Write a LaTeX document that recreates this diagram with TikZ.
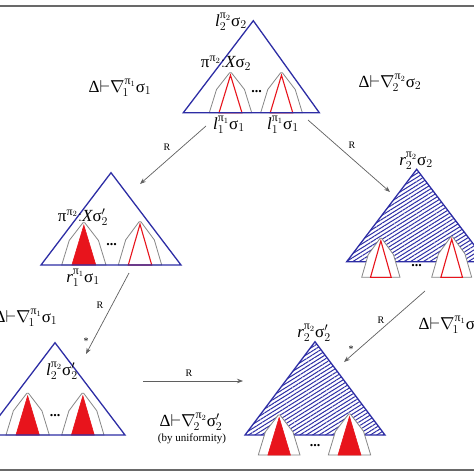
\documentclass[tikz,border=0pt]{standalone}
\usepackage{fontspec}
\usepackage{amsmath}
\setmainfont{Liberation Serif}
\usetikzlibrary{patterns.meta,arrows.meta}
\definecolor{tblue}{RGB}{45,45,165}
\definecolor{tred}{RGB}{232,20,28}
\definecolor{tgray}{RGB}{135,135,135}
\definecolor{agray}{RGB}{95,95,95}
\definecolor{rulegray}{RGB}{105,105,105}
\newcommand\gpi{\text{π}}
\newcommand\gsig{\text{σ}}
\newcommand\gDel{\text{Δ}}
\newcommand\itl{\text{\itshape l}}
\newcommand\itr{\text{\itshape r}}
\newcommand\itX{\text{\itshape X}}
\newcommand\subtree[5]{%
  \pgfmathsetmacro\stw{#2-#1}%
  \pgfmathsetmacro\sth{#3-#4}%
  \pgfmathsetmacro\stc{(#1+#2)/2}%
  \path[graysh] (#1,#3) -- ({#1+0.17*\stw},{#3-0.58*\sth}) -- ({\stc-0.02*\stw},#4) -- ({\stc+0.02*\stw},#4) -- ({#2-0.17*\stw},{#3-0.58*\sth}) -- (#2,#3) -- cycle;
  \path[#5] ({#1+0.23*\stw},#3) -- (\stc,{#4+2.5}) -- ({#2-0.23*\stw},#3) -- cycle;
}
\begin{document}
\begin{tikzpicture}[x=1pt,y=-1pt,
  tri/.style={draw=tblue,line width=1.3pt,line join=miter},
  hatch/.style={pattern={Lines[angle=32,distance=3.4pt,line width=1pt]},pattern color=tblue},
  graysh/.style={draw=tgray,line width=0.8pt,fill=white},
  redo/.style={draw=tred,line width=1.1pt},
  redf/.style={draw=tred,fill=tred,line width=0.6pt},
  conn/.style={draw=agray,line width=0.7pt,-{Stealth[length=6pt,width=4.5pt]}},
  lab/.style={inner sep=0pt,font=\fontsize{17}{19}\selectfont},
  rl/.style={inner sep=0pt,font=\fontsize{10}{12}\selectfont},
  dts/.style={inner sep=0pt,font=\fontsize{14}{16}\selectfont\bfseries},
]
\useasboundingbox (0,0) rectangle (474,474);
% rules
\draw[rulegray,line width=1.6pt] (0,5.7) -- (474,5.7);
\draw[rulegray,line width=1.6pt] (0,470.2) -- (474,470.2);

% triangle 1 (top)
\subtree{209.3}{251.7}{112.7}{72.7}{redo}
\subtree{260.7}{302.3}{112.7}{72.7}{redo}
\draw[tri] (253.3,20.7) -- (183.3,112.7) -- (319.3,112.7) -- cycle;
\node[dts] (d1) at (256.7,92) {...};

% triangle 2 (middle left)
\subtree{61.7}{106}{265}{222.7}{redf}
\subtree{118.3}{161.7}{265}{221.7}{redo}
\draw[tri] (111,172.7) -- (41,265) -- (181,265) -- cycle;
\node[dts] (d2) at (111.7,245) {...};

% triangle 3 (middle right, hatched)
\path[hatch] (416.7,169.3) -- (346.7,261.7) -- (486.7,261.7) -- cycle;
\draw[tri] (416.7,169.3) -- (346.7,261.7) -- (486.7,261.7) -- cycle;
\subtree{361.7}{400}{277.3}{238.3}{redo}
\subtree{431.7}{471.7}{277.3}{236.7}{redo}
\node[dts] (d3) at (416.7,266) {...};

% triangle 4 (bottom left)
\subtree{6}{49.3}{435}{393.3}{redf}
\subtree{61.7}{104}{435}{393.3}{redf}
\draw[tri] (55,342.7) -- (-15,435) -- (125,435) -- cycle;
\node[dts] (d4) at (55,415.5) {...};

% triangle 5 (bottom right, hatched)
\path[hatch] (315,341.7) -- (245,435) -- (385,435) -- cycle;
\draw[tri] (315,341.7) -- (245,435) -- (385,435) -- cycle;
\subtree{258.3}{300}{455}{415}{redf}
\subtree{328.3}{370.7}{455}{414}{redf}
\node[dts] (d5) at (315,446) {...};

% labels
\node[lab] (l1a) at (231,22) {$\itl_2^{\gpi_2}\gsig_2$};
\node[lab] (l1b) at (226,63) {$\gpi^{\gpi_2}{:}\itX\gsig_2$};
\node[lab] (l1c) at (229,125) {$\itl_1^{\gpi_1}\gsig_1$};
\node[lab] (l1d) at (283,125) {$\itl_1^{\gpi_1}\gsig_1$};
\node[lab] (l2a) at (83,217) {$\gpi^{\gpi_2}{:}\itX\gsig'_2$};
\node[lab] (l2b) at (83,278) {$\itr_1^{\gpi_1}\gsig_1$};
\node[lab] (l3a) at (416,161) {$\itr_2^{\gpi_2}\gsig_2$};
\node[lab] (l4a) at (62,371) {$\itl_2^{\gpi_2}\gsig'_2$};
\node[lab] (l5a) at (314,333) {$\itr_2^{\gpi_2}\gsig'_2$};

\node[lab] (j1) at (120,88) {$\gDel{\vdash}\nabla_{\!1}^{\gpi_1}\gsig_1$};
\node[lab] (j2) at (390,83) {$\gDel{\vdash}\nabla_{\!2}^{\gpi_2}\gsig_2$};
\node[lab] (j3) at (26,318) {$\gDel{\vdash}\nabla_{\!1}^{\gpi_1}\gsig_1$};
\node[lab] (j4) at (450,325) {$\gDel{\vdash}\nabla_{\!1}^{\gpi_1}\gsig_1$};
\node[lab] (j5) at (191,422) {$\gDel{\vdash}\nabla_{\!2}^{\gpi_2}\gsig'_2$};
\node[rl,font=\fontsize{11}{13}\selectfont] (j5b) at (192,439) {(by uniformity)};

% connectors
\coordinate (a1s) at (206,126); \coordinate (a1e) at (140,184);
\coordinate (a2s) at (308,120); \coordinate (a2e) at (390,192);
\coordinate (a3s) at (129,273); \coordinate (a3e) at (86,354);
\coordinate (a4s) at (425,291); \coordinate (a4e) at (344,362);
\coordinate (a5s) at (143,381); \coordinate (a5e) at (243,381);
\draw[conn] (a1s) -- (a1e);
\draw[conn] (a2s) -- (a2e);
\draw[conn] (a3s) -- (a3e);
\draw[conn] (a4s) -- (a4e);
\draw[conn] (a5s) -- (a5e);
\node[rl] (r1) at (167,147) {R};
\node[rl] (r2) at (352,145) {R};
\node[rl] (r3) at (100,305) {R};
\node[rl] (r4) at (381,320) {R};
\node[rl] (r5) at (189,373) {R};
\node[rl] (s3) at (86,341) {*};
\node[rl] (s4) at (351,349) {*};
\end{tikzpicture}
\end{document}
